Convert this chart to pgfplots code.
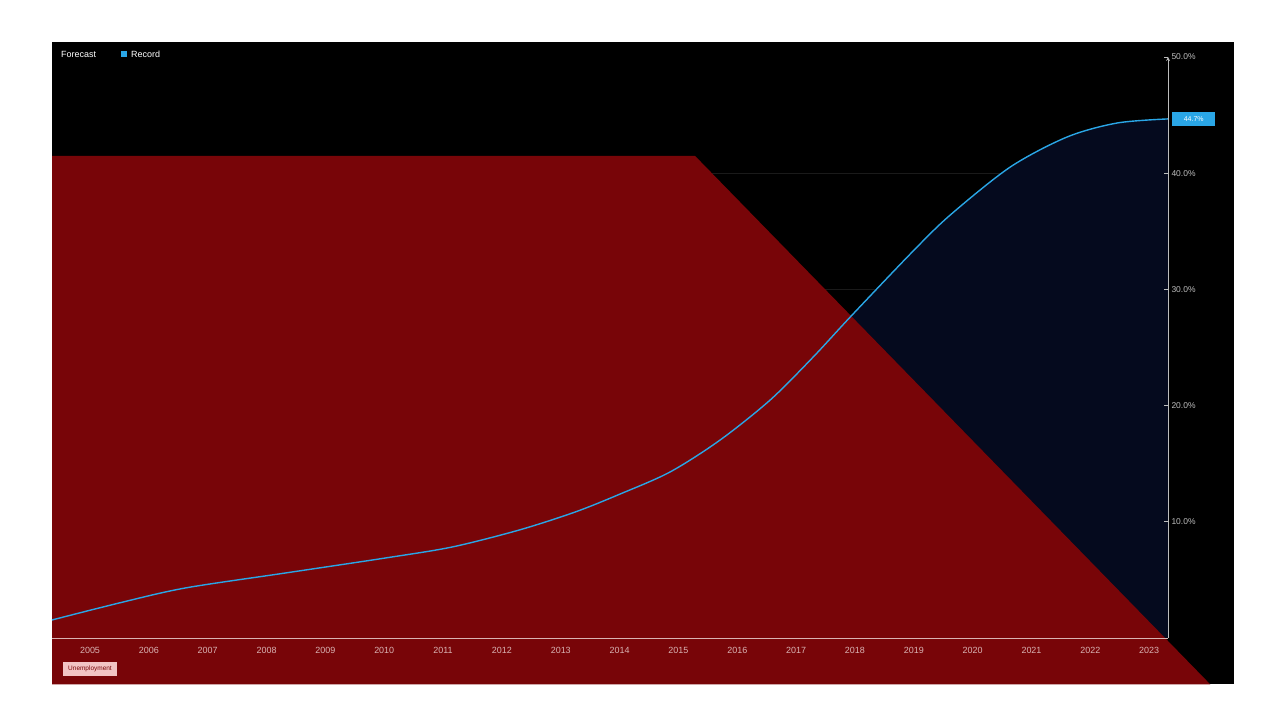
\documentclass[border=0pt]{standalone}
\usepackage{pgfplots}
\pgfplotsset{compat=1.18}
\usepackage{fontspec}
\setmainfont{Liberation Sans}
\definecolor{bgred}{HTML}{780508}
\definecolor{navy}{HTML}{050A1E}
\definecolor{lineblue}{HTML}{2AA6E6}
\definecolor{tickpink}{HTML}{D9B3B3}
\definecolor{ytickc}{HTML}{BDBDBD}
\definecolor{gridc}{HTML}{1A1A1A}
\definecolor{boxpink}{HTML}{F2C4C4}
\begin{document}
\begin{tikzpicture}[x=1bp,y=1bp]
\fill[white] (0,0) rectangle (1280,720);
\fill[black] (52,36) rectangle (1234,678);
\begin{axis}[
  at={(52bp,82bp)}, anchor=south west, scale only axis,
  width=1116bp, height=581bp,
  xmin=-0.646, xmax=18.32, ymin=0, ymax=5,
  clip=false, axis on top,
  axis x line*=bottom, axis y line=right,
  x axis line style={draw=tickpink, line width=0.8bp},
  y axis line style={draw=ytickc, line width=0.8bp},
  xtick={0,...,18},
  xticklabels={2005,2006,2007,2008,2009,2010,2011,2012,2013,2014,2015,2016,2017,2018,2019,2020,2021,2022,2023},
  xtick style={draw=none},
  ytick={1,2,3,4,5},
  yticklabels={10.0\%,20.0\%,30.0\%,40.0\%,50.0\%},
  ytick style={draw=ytickc, line width=0.6bp},
  tick align=inside, major tick length=4bp,
  x tick label style={text=tickpink, font=\fontsize{9}{10}\selectfont, yshift=-6bp},
  y tick label style={text=ytickc, font=\fontsize{8.5}{10}\selectfont},
  /pgf/number format/assume math mode=true,
]
% faint grid lines
\draw[gridc, line width=0.6bp] (axis cs:-0.646,1) -- (axis cs:18.32,1);
\draw[gridc, line width=0.6bp] (axis cs:-0.646,2) -- (axis cs:18.32,2);
\draw[gridc, line width=0.6bp] (axis cs:-0.646,3) -- (axis cs:18.32,3);
\draw[gridc, line width=0.6bp] (axis cs:-0.646,4) -- (axis cs:18.32,4);
% area under curve
\addplot[draw=none, fill=navy, smooth] coordinates {
(-0.646,0.155) (0.493,0.301) (1.615,0.430) (3.315,0.559) (5.014,0.688) (6.153,0.783) (7.292,0.929) (8.244,1.084) (9.009,1.239) (9.859,1.429) (10.709,1.704) (11.559,2.048) (12.290,2.418) (12.919,2.762) (13.973,3.322) (14.619,3.640) (15.639,4.053) (16.607,4.312) (17.457,4.432) (18.32,4.467)
} \closedcycle;
% red area
\addplot[draw=none, fill=bgred] coordinates {
(-0.646,4.15) (10.28,4.15) (19.04,-0.40) (-0.646,-0.40)
} -- cycle;
% line
\addplot[lineblue, line width=1.4bp, smooth] coordinates {
(-0.646,0.155) (0.493,0.301) (1.615,0.430) (3.315,0.559) (5.014,0.688) (6.153,0.783) (7.292,0.929) (8.244,1.084) (9.009,1.239) (9.859,1.429) (10.709,1.704) (11.559,2.048) (12.290,2.418) (12.919,2.762) (13.973,3.322) (14.619,3.640) (15.639,4.053) (16.607,4.312) (17.457,4.432) (18.32,4.467)
};
\node[fill=lineblue, text=white, anchor=west, font=\fontsize{7}{8}\selectfont, minimum width=43bp, minimum height=14bp, inner sep=1bp] at (axis cs:18.32,4.467) [xshift=4bp] {44.7\%};
\end{axis}
% legend
\node[white, anchor=west, font=\fontsize{9}{10}\selectfont, inner sep=0] at (61,666) {Forecast};
\fill[lineblue] (121,663) rectangle (127,669);
\node[white, anchor=west, font=\fontsize{9}{10}\selectfont, inner sep=0] at (131,666) {Record};
% bottom label box
\node[fill=boxpink, text=bgred, font=\fontsize{6.5}{7}\selectfont, minimum width=54bp, minimum height=14bp, inner sep=1bp] at (90,51) {Unemployment};
\end{tikzpicture}
\end{document}
